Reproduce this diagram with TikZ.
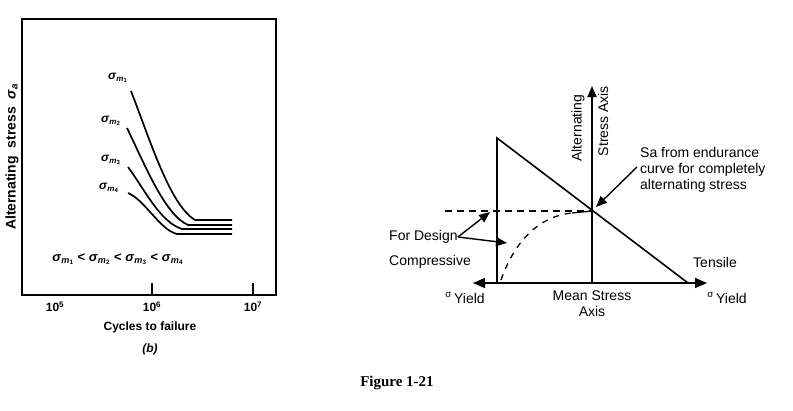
\documentclass[tikz,border=0pt]{standalone}
\usepackage{fontspec}
\setmainfont{Liberation Serif}
\setsansfont{Liberation Sans}
\usetikzlibrary{arrows.meta}
\newcommand{\sgm}[1]{\textit{σ}\textsubscript{\textit{m}\textsubscript{#1}}}
\begin{document}
\begin{tikzpicture}[x=1pt,y=-1pt,
  lbl/.style={font=\sffamily\fontsize{14}{16}\selectfont,inner sep=0pt},
  plbl/.style={font=\sffamily\bfseries\fontsize{12}{14}\selectfont,inner sep=0pt},
  curve/.style={line width=1.7pt},
  ax/.style={line width=1.6pt},
  arr/.style={line width=1.4pt,-{Triangle[length=11pt,width=9pt]}}]
\useasboundingbox (0,0) rectangle (793,410);
% left plot
\draw[line width=1.5pt] (22,19) rectangle (276,295);
\draw[line width=1.2pt] (152,295) -- (152,283) (253,295) -- (253,283);
\node[plbl] (t5) at (55,307) {10\textsuperscript{5}};
\node[plbl] (t6) at (152,307) {10\textsuperscript{6}};
\node[plbl] (t7) at (253,307) {10\textsuperscript{7}};
\node[plbl] (xl) at (150,327) {Cycles to failure};
\node[plbl] (bl) at (150,349) {\itshape(b)};
\node[plbl,rotate=90,font=\sffamily\bfseries\fontsize{14}{16}\selectfont] (yl) at (12,157) {Alternating\ \ stress\ \ \textit{σ\textsubscript{a}}};
\draw[curve] (131,91) .. controls (150,140) and (170,205) .. (195,220) -- (232,220);
\draw[curve] (127,128) .. controls (145,165) and (165,215) .. (188,225) -- (232,225);
\draw[curve] (128,167) .. controls (145,190) and (160,222) .. (182,229) -- (232,229);
\draw[curve] (128,193) .. controls (145,200) and (160,230) .. (177,234) -- (232,234);
\node[plbl] (m1) at (118,78) {\sgm{1}};
\node[plbl] (m2) at (111,121) {\sgm{2}};
\node[plbl] (m3) at (111,160) {\sgm{3}};
\node[plbl] (m4) at (109,188) {\sgm{4}};
\node[plbl,font=\sffamily\bfseries\fontsize{13}{15}\selectfont] (ineq) at (118,259) {\sgm{1} < \sgm{2} < \sgm{3} < \sgm{4}};
% right diagram
\coordinate (o) at (592,283);
\coordinate (top) at (592,86);
\coordinate (L) at (473,283);
\coordinate (R) at (707,283);
\coordinate (apex) at (497,138);
\coordinate (foot) at (497,283);
\coordinate (br) at (688,283);
\coordinate (sa) at (592,211);
\coordinate (dl) at (445,211);
\draw[ax,-{Triangle[length=11pt,width=9pt]}] (o) -- (top);
\draw[ax,{Triangle[length=12pt,width=10pt]}-{Triangle[length=12pt,width=10pt]}] (L) -- (R);
\draw[ax] (foot) -- (apex) -- (br);
\draw[line width=1.3pt,dash pattern=on 7pt off 5pt] (dl) -- (sa);
\draw[line width=1.3pt,dash pattern=on 6pt off 6pt] (501,280) .. controls (515,240) and (540,216) .. (572,213);
\draw[line width=1.3pt] (572,213) -- (sa);
\node[lbl,rotate=90] (alt) at (578,128) {Alternating};
\node[lbl,rotate=90] (sax) at (603,121) {Stress Axis};
\node[lbl,align=left,anchor=north west] (satxt) at (640,147) {Sa from endurance\\curve for completely\\alternating stress};
\draw[arr] (637,167) -- (596,207);
\node[lbl,anchor=west] (fd) at (389,237) {For Design};
\node[lbl,anchor=west] (comp) at (389,262) {Compressive};
\node[lbl] (ten) at (715,262) {Tensile};
\node[lbl] (sy1) at (465,298) {\textsuperscript{σ}\,Yield};
\node[lbl] (sy2) at (727,298) {\textsuperscript{σ}\,Yield};
\node[lbl,align=center,anchor=north] (ms) at (592,291) {Mean Stress\\Axis};
\draw[arr] (fd.east) -- (490,212);
\draw[arr] (fd.east) -- (507,243);
\node[font=\rmfamily\bfseries\fontsize{15}{17}\selectfont] (fig) at (397,383) {Figure 1-21};
\end{tikzpicture}
\end{document}
